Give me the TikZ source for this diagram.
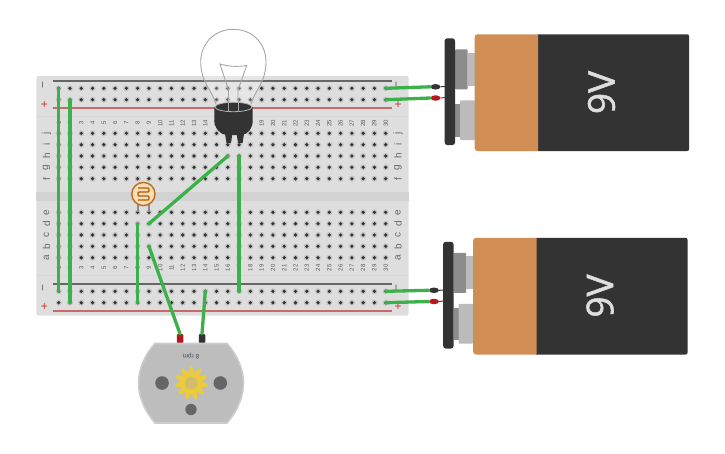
\documentclass[tikz,border=0pt]{standalone}
\usepackage{fontspec}
\setmainfont{Liberation Sans}
\newfontfamily\batfont[FakeBold=1.4]{Open Sans}
\usetikzlibrary{shapes.geometric}
\definecolor{boardgray}{HTML}{DEDEDE}
\definecolor{channelgray}{HTML}{D2D2D2}
\definecolor{holegray}{HTML}{C4C4C4}
\definecolor{darkpart}{HTML}{333333}
\definecolor{wiregreen}{HTML}{3BB149}
\definecolor{railred}{HTML}{C96A6A}
\definecolor{plusred}{HTML}{D0312D}
\definecolor{leadred}{HTML}{B5171D}
\definecolor{batorange}{HTML}{D08E55}
\definecolor{termdark}{HTML}{8C8C8C}
\definecolor{termlight}{HTML}{BBBBBB}
\definecolor{gearyellow}{HTML}{ECCB3A}
\tikzset{
  wire/.style={draw=wiregreen, line width=3.3pt, line cap=round},
  boardlabel/.style={font=\fontsize{10}{11}\selectfont, text=black!60, rotate=90, inner sep=0pt},
  colnum/.style={font=\fontsize{6}{7}\selectfont, text=black!65, rotate=90, inner sep=0pt},
  signlabel/.style={font=\fontsize{12}{13}\selectfont, inner sep=0pt},
  batclip/.style={ellipse, minimum width=10pt, minimum height=5.5pt, inner sep=0pt},
  motorpin/.style={minimum width=6.5pt, minimum height=9pt, inner sep=0pt, rounded corners=1pt},
}
\begin{document}
\begin{tikzpicture}[x=1pt, y=-1pt]
  \useasboundingbox (0,0) rectangle (725,453);
  % breadboard
  \fill[boardgray, rounded corners=2pt] (36.3,76) rectangle (408.7,315.5);
  \fill[channelgray] (36.3,191.5) rectangle (408.7,200.8);
  \draw[black!15, line width=.8pt] (36.3,116.5) -- (408.7,116.5) (36.3,275) -- (408.7,275);
  \draw[black!60, line width=1.6pt] (52.7,81) -- (391.7,81) (52.7,283.7) -- (391.7,283.7);
  \draw[railred, line width=1.6pt] (52.7,107.7) -- (391.7,107.7) (52.7,311) -- (391.7,311);
  \foreach \rowname/\ypos in {ta/88.3, tb/99.7, j/133.3, i/144.7, h/156, g/167.3, f/178.7,
      e/212.3, d/223.7, c/235, b/246.3, a/257.7, ba/291.3, bb/302.7} {
    \foreach \col in {1,...,30} {
      \coordinate (\rowname\col) at ({58.7+(\col-1)*11.276},\ypos);
      \fill[holegray] (\rowname\col) circle (3pt);
      \fill[darkpart] (\rowname\col) circle (1.8pt);
    }
  }
  \foreach \col in {1,...,30} {
    \node[colnum] (numtop\col) at ({58.7+(\col-1)*11.276},123.2) {\col};
    \node[colnum] (numbot\col) at ({58.7+(\col-1)*11.276},267.8) {\col};
  }
  \foreach \rowname/\ypos in {j/133.3, i/144.7, h/156, g/167.3, f/178.7, e/212.3, d/223.7, c/235, b/246.3, a/257.7} {
    \node[boardlabel] (left\rowname) at (46.5,\ypos) {\rowname};
    \node[boardlabel] (right\rowname) at (398,\ypos) {\rowname};
  }
  \foreach \xpos/\tag in {44.5/l, 398/r} {
    \node[signlabel, text=black!60, rotate=90] (minustop\tag) at (\xpos,85) {−};
    \node[signlabel, text=plusred] (plustop\tag) at (\xpos,104.7) {+};
    \node[signlabel, text=black!60, rotate=90] (minusbot\tag) at (\xpos,287.5) {−};
    \node[signlabel, text=plusred] (plusbot\tag) at (\xpos,307) {+};
  }
  % light sensor
  \draw[black!45, line width=1.8pt] (e8) -- ++(0,-8) (e9) -- ++(0,-8);
  \draw[fill=yellow!25!black!5!orange!25, draw=orange!70!black!85, line width=1.5pt] (143.4,194) circle (11.6pt);
  \draw[orange!70!black, line width=1.3pt, rounded corners=1pt]
    (138,188) -- (149,188) -- (149,192) -- (138,192) -- (138,196) -- (149,196) -- (149,200) -- (138,200);
  % bulb
  \draw[black!35, line width=.9pt, fill=white, fill opacity=.25]
    (216,104) .. controls (212,90) and (200.7,82) .. (200.7,62)
    .. controls (200.7,43) and (215,29.3) .. (233.3,29.3)
    .. controls (252,29.3) and (266,43) .. (266,62)
    .. controls (266,82) and (255,90) .. (251,104);
  \draw[black!35, line width=.9pt]
    (228.5,106) -- (228.5,90) -- (220,64) .. controls (228,66.5) and (238,67) .. (246.7,65.5) -- (238,90) -- (238,106);
  \fill[darkpart] (225,134) -- (232.3,134) -- (231,143) -- (226.5,143) -- cycle;
  \fill[darkpart] (236.7,134) -- (244,134) -- (242.5,143) -- (238,143) -- cycle;
  \fill[darkpart] (214.3,107) -- (214.3,120) .. controls (214.3,128) and (220,135) .. (227,135)
    -- (241,135) .. controls (248,135) and (252.7,128) .. (252.7,120) -- (252.7,107) -- cycle;
  \draw[fill=darkpart, draw=black!30, line width=.8pt] (233.5,107) ellipse (18.5pt and 4.7pt);
  \draw[black!35, line width=.9pt] (228.5,100) -- (228.5,111.5) (238,100) -- (238,111.5);
  % wires on the board
  \draw[wire] (ta1) -- (ba1);
  \draw[wire] (tb2) -- (bb2);
  \draw[wire] (d8) -- (bb8);
  \draw[wire] (d9) -- (h16);
  \draw[wire] (h17) -- (ba17);
  % motor
  \node[motorpin, fill=leadred] (motorred) at (180,338.5) {};
  \node[motorpin, fill=darkpart] (motorblack) at (202,338.5) {};
  \draw[wire] (b9) -- (motorred.north);
  \draw[wire] (ba14) -- (motorblack.north);
  \draw[fill=black!26, draw=black!20, line width=1.6pt]
    (155,343.5) -- (227,343.5) .. controls (238,356) and (243.5,370) .. (243.5,383)
    .. controls (243.5,396) and (238,410) .. (227,423) -- (155,423)
    .. controls (144,410) and (138.5,396) .. (138.5,383)
    .. controls (138.5,370) and (144,356) .. (155,343.5) -- cycle;
  \fill[black!60] (162,383) circle (6.8pt) (220.3,383) circle (6.8pt) (191,409.5) circle (5.7pt);
  \fill[gearyellow] plot[smooth cycle, domain=0:356, samples=90]
    ({191.3+(14+3.2*sin(11*\x))*cos(\x)},{383+(14+3.2*sin(11*\x))*sin(\x)});
  \fill[black!20!gearyellow!70!white] (191.3,383) circle (6.5pt);
  \node[font=\fontsize{6.5}{7}\selectfont, text=black!70, rotate=180, inner sep=0pt] (motorrpm) at (191,356.5) {8 rpm};
  % batteries
  \foreach \xs/\ys/\clipa/\clipb/\rowa/\rowb in {0/0/cliptopa/cliptopb/ta30/tb30, -1.5/203.5/clipbota/clipbotb/ba30/bb30} {
    \begin{scope}[shift={(\xs,\ys)}]
      \fill[termdark, rounded corners=1pt] (455,49.3) rectangle (467.7,89.3);
      \fill[termlight] (467.7,52.7) rectangle (475,85.7);
      \fill[termdark] (455,104) rectangle (460.5,136.7);
      \fill[termlight, rounded corners=1pt] (460,100.3) rectangle (475,140);
      \fill[darkpart] (537.5,34.3) -- (687,34.3) .. controls (688.5,34.3) and (689,35) .. (689,36.3)
        -- (689,149) .. controls (689,150.5) and (688.5,151) .. (687,151) -- (537.5,151) -- cycle;
      \fill[batorange] (538,34.3) -- (477.7,34.3) .. controls (475.7,34.3) and (474.7,35.3) .. (474.7,37.3)
        -- (474.7,148) .. controls (474.7,150) and (475.7,151) .. (477.7,151) -- (538,151) -- cycle;
      \fill[darkpart, rounded corners=2.5pt] (444.7,38.3) rectangle (455,145);
      \node[font=\batfont\fontsize{37}{37}\selectfont, text=black!13, rotate=90, inner sep=0pt] at (601.5,92.5) {9V};
      \node[batclip, fill=darkpart] (\clipa) at (435.5,86.8) {};
      \node[batclip, fill=leadred] (\clipb) at (435.5,98) {};
      \draw[darkpart, line width=1pt] (\clipa.east) -- (445,86.5);
      \draw[leadred, line width=1pt] (\clipb.east) -- (445,97.5);
    \end{scope}
    \draw[wire] (\rowa) -- (\clipa.west);
    \draw[wire] (\rowb) -- (\clipb.west);
  }
\end{tikzpicture}
\end{document}
